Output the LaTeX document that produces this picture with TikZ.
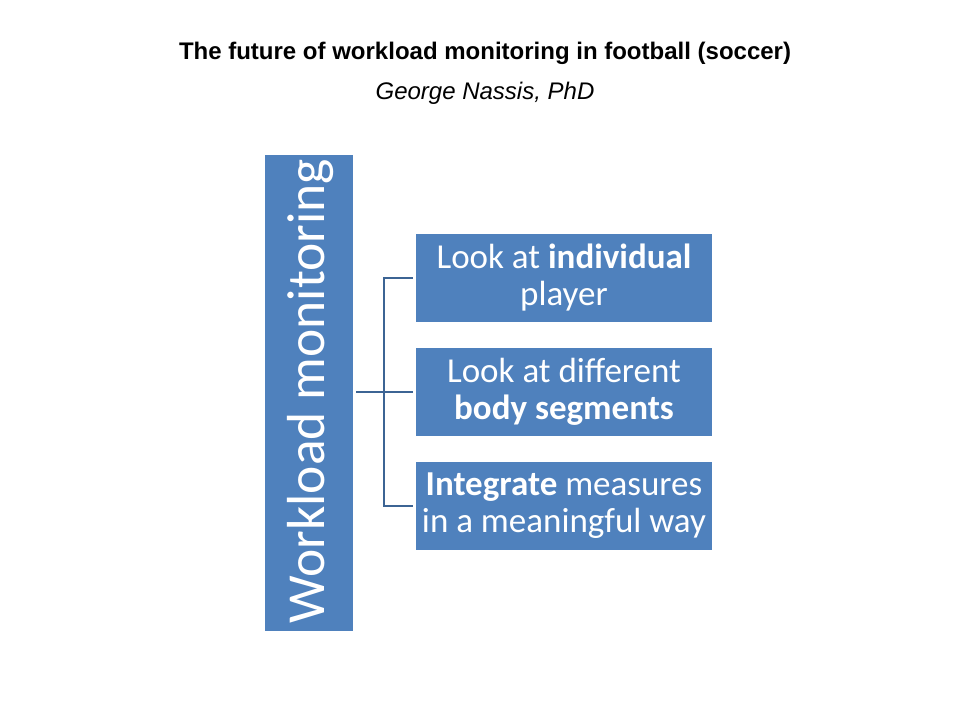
\documentclass[tikz,border=0pt]{standalone}
\usepackage{fontspec}
\setmainfont{Liberation Sans}
\newfontfamily\calfont{Carlito}
\definecolor{boxblue}{HTML}{4F81BD}
\definecolor{linkblue}{HTML}{3C6494}
\begin{document}
\begin{tikzpicture}[x=1pt,y=-1pt,
  item/.style={fill=boxblue, minimum width=296pt, minimum height=88pt, inner sep=0pt,
    text=white, align=center, font=\calfont\fontsize{35}{37}\selectfont},
  link/.style={draw=linkblue, line width=2.5pt, line join=miter}]
\useasboundingbox (0,0) rectangle (960,720);
\node[font=\bfseries\fontsize{24}{28}\selectfont, anchor=base] (title) at (485,59)
  {The future of workload monitoring in football (soccer)};
\node[font=\itshape\fontsize{24}{28}\selectfont, anchor=base] (author) at (485,99)
  {George Nassis, PhD};
\node[fill=boxblue, minimum width=88pt, minimum height=476pt, inner sep=0pt] (wm) at (309,392.5) {};
\node[rotate=90, text=white, inner sep=0pt, font=\calfont\fontsize{53.5}{60}\selectfont] (wmtext) at (311,391)
  {Workload monitoring};
\node[item] (b1) at (564,278) {Look at \textbf{individual}\\player};
\node[item] (b2) at (564,392) {Look at different\\\textbf{body segments}};
\node[item] (b3) at (564,506) {\textbf{Integrate} measures\\in a meaningful way};
\coordinate (hub) at (384,392);
\draw[link, shorten <=3pt, shorten >=3pt] (wm.east |- hub) -- (b2.west);
\draw[link, shorten <=3pt, shorten >=3pt] (b1.west) -| (hub) |- (b3.west);
\end{tikzpicture}
\end{document}
